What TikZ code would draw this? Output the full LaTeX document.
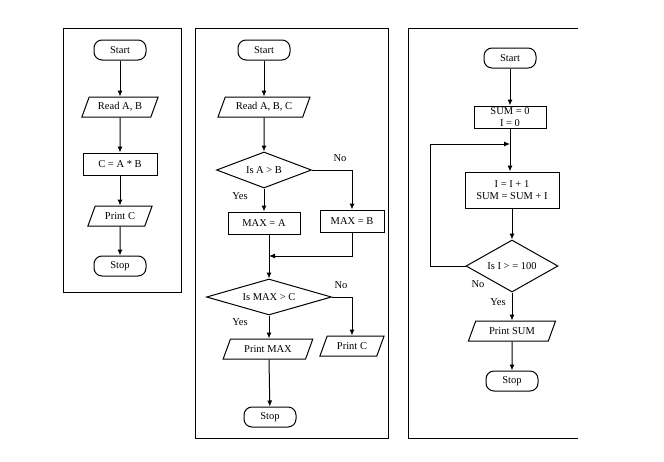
\documentclass[tikz,border=0pt]{standalone}
\usepackage{fontspec}
\setmainfont{Liberation Serif}
\usetikzlibrary{shapes.geometric,arrows.meta}
\begin{document}
\begin{tikzpicture}[x=1pt,y=-1pt,font=\fontsize{10.5}{11.5}\selectfont,line width=1pt,
  term/.style={draw, rounded corners=8pt, minimum width=52pt, minimum height=20pt},
  proc/.style={draw, minimum height=22pt, inner sep=2pt},
  io/.style={draw, trapezium, trapezium left angle=70, trapezium right angle=110, minimum height=20pt, inner xsep=2pt},
  dec/.style={draw, diamond, aspect=3.2, inner sep=1pt},
  arr/.style={-{Latex[length=6pt,width=5pt]}},
  lbl/.style={font=\fontsize{10.5}{11.5}\selectfont}]
  \useasboundingbox (0,0) rectangle (664,461);

  % --------------------
  % Panel 1
  % --------------------
  \draw (63,28) rectangle (181,292);
  \node[term] (s1) at (120,50) {Start};
  \node[io, minimum width=70pt] (r1) at (120,107) {Read A, B};
  \node[proc, minimum width=74pt] (c1) at (120,164) {C = A * B};
  \node[io, minimum width=46pt] (p1) at (120,216) {Print C};
  \node[term] (e1) at (120,266) {Stop};
  \draw[arr] (s1) -- (r1);
  \draw[arr] (r1) -- (c1);
  \draw[arr] (c1) -- (p1);
  \draw[arr] (p1) -- (e1);

  % --------------------
  % Panel 2
  % --------------------
  \draw (195,28) rectangle (388,438);
  \node[term] (s2) at (264,50) {Start};
  \node[io, minimum width=84pt] (r2) at (264,107) {Read A, B, C};
  \node[dec, minimum width=95pt, minimum height=36pt] (d2) at (264,170) {Is A > B};
  \node[proc, minimum width=72pt] (ma) at (264,223) {MAX = A};
  \node[proc, minimum width=64pt] (mb) at (352,221) {MAX = B};
  \coordinate (j2) at (269,256);
  \node[dec, minimum width=125pt, minimum height=36pt] (d3) at (269,297) {Is MAX > C};
  \node[io, minimum width=78pt] (pm) at (268,349) {Print MAX};
  \node[io, minimum width=58pt] (pc) at (352,346) {Print C};
  \node[term] (e2) at (270,417) {Stop};
  \draw[arr] (s2) -- (r2);
  \draw[arr] (r2) -- (d2);
  \draw[arr] (d2) -- (ma);
  \draw[arr] (d2.east) -| (mb);
  \draw (ma.south -| j2) -- (j2);
  \draw[arr] (mb.south) |- (j2);
  \draw[arr] (j2) -- (d3);
  \draw[arr] (d3.south) -- (pm.north -| d3.south);
  \draw[arr] (d3.east) -| (pc);
  \draw[arr] (pm.south -| d3.south) -- (e2);
  \node[lbl] at (340,158) {No};
  \node[lbl] at (240,196) {Yes};
  \node[lbl] at (341,285) {No};
  \node[lbl] at (240,322) {Yes};

  % --------------------
  % Panel 3
  % --------------------
  \draw (578,28) -- (408,28) -- (408,438) -- (578,438);
  \node[term] (s3) at (510,58) {Start};
  \node[proc, minimum width=72pt, align=center, inner sep=1pt] (i3) at (510,117) {SUM = 0\\I = 0};
  \coordinate (k3) at (510,144);
  \node[proc, minimum width=94pt, minimum height=36pt, align=center] (a3) at (512,190) {I = I + 1\\SUM = SUM + I};
  \node[dec, minimum width=92pt, minimum height=52pt, aspect=1.8] (d4) at (512,266) {Is I > = 100};
  \node[io, minimum width=80pt] (ps) at (512,331) {Print SUM};
  \node[term] (e3) at (512,381) {Stop};
  \draw[arr] (s3) -- (i3);
  \draw (i3.south) -- (k3);
  \draw[arr] (k3) -- (a3.north -| k3);
  \draw[arr] (d4.west) -- (430,266) -- (430,144) -- (k3);
  \draw[arr] (a3) -- (d4);
  \draw[arr] (d4) -- (ps);
  \draw[arr] (ps) -- (e3);
  \node[lbl] at (478,284) {No};
  \node[lbl] at (498,302) {Yes};
\end{tikzpicture}
\end{document}
